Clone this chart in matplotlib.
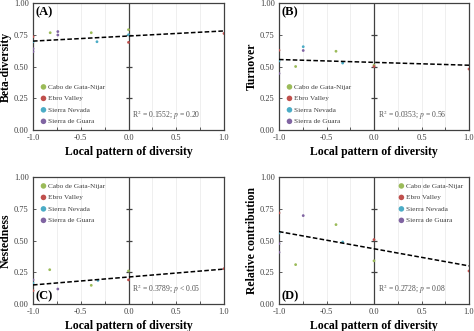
import matplotlib
matplotlib.use("Agg")
import matplotlib.pyplot as plt
import numpy as np

plt.rcParams['font.family'] = ['Liberation Serif', 'DejaVu Serif']
plt.rcParams['mathtext.fontset'] = 'stix'

sites = ["Cabo de Gata-Nijar", "Ebro Valley", "Sierra Nevada", "Sierra de Guara"]
site_colors = ["#9BBB59", "#C0504D", "#4BACC6", "#8064A2"]

# Panel A: Beta-diversity
a_x = {"Cabo de Gata-Nijar": [-0.82, -0.39, 0.0], "Ebro Valley": [-1.0, 0.0, 1.0],
       "Sierra Nevada": [-1.0, -0.33, 0.0], "Sierra de Guara": [-1.0, -1.0, -0.74, -0.74]}
a_y = {"Cabo de Gata-Nijar": [0.766, 0.766, 0.79], "Ebro Valley": [0.735, 0.69, 0.76],
       "Sierra Nevada": [0.695, 0.695, 0.75], "Sierra de Guara": [0.64, 0.617, 0.775, 0.748]}
# Panel B: Turnover
b_x = {"Cabo de Gata-Nijar": [-0.825, -0.40, 0.0], "Ebro Valley": [-1.0, 0.0, 1.0],
       "Sierra Nevada": [-1.0, -0.33, -0.745], "Sierra de Guara": [-1.0, -0.745]}
b_y = {"Cabo de Gata-Nijar": [0.50, 0.62, 0.51], "Ebro Valley": [0.628, 0.50, 0.48],
       "Sierra Nevada": [0.544, 0.527, 0.656], "Sierra de Guara": [0.445, 0.626]}
# Panel C: Nestedness
c_x = {"Cabo de Gata-Nijar": [-0.825, -0.39, 0.0], "Ebro Valley": [-1.0, 0.0, 1.0],
       "Sierra Nevada": [-1.0, -0.32], "Sierra de Guara": [-1.0, -0.74]}
c_y = {"Cabo de Gata-Nijar": [0.27, 0.147, 0.26], "Ebro Valley": [0.105, 0.19, 0.278],
       "Sierra Nevada": [0.165, 0.186], "Sierra de Guara": [0.19, 0.118]}
# Panel D: Relative contribution
d_x = {"Cabo de Gata-Nijar": [-0.825, -0.40, 0.0], "Ebro Valley": [-1.0, 0.0, 1.0],
       "Sierra Nevada": [-1.0, -0.33], "Sierra de Guara": [-1.0, -1.0, -0.745]}
d_y = {"Cabo de Gata-Nijar": [0.31, 0.625, 0.34], "Ebro Valley": [0.717, 0.507, 0.26],
       "Sierra Nevada": [0.559, 0.488], "Sierra de Guara": [0.475, 0.407, 0.696]}

# Fitted trend lines: (value at x=-1, value at x=1)
trend_a = [0.70, 0.78]
trend_b = [0.555, 0.51]
trend_c = [0.15, 0.275]
trend_d = [0.57, 0.30]

ylabels = ["Beta-diversity", "Turnover", "Nestedness", "Relative contribution"]
panel_labels = ["(A)", "(B)", "(C)", "(D)"]
stats = [r"R$^2$ = 0.1552; $\it{p}$ = 0.20", r"R$^2$ = 0.0353; $\it{p}$ = 0.56",
         r"R$^2$ = 0.3789; $\it{p}$ < 0.05", r"R$^2$ = 0.2728; $\it{p}$ = 0.08"]
xticks = [-1.0, -0.5, 0.0, 0.5, 1.0]
yticks = [0.0, 0.25, 0.5, 0.75, 1.0]

fig = plt.figure(figsize=(4.74, 3.31), dpi=100)
W, H = 474, 331
boxes = [(33, 3, 224, 130), (279, 3, 469, 130), (33, 177, 224, 304), (279, 177, 469, 304)]
xs_all = [a_x, b_x, c_x, d_x]
ys_all = [a_y, b_y, c_y, d_y]
trends = [trend_a, trend_b, trend_c, trend_d]
legend_locs = ["lower left", "lower left", "upper left", "upper right"]
label_pos = ["top", "top", "bottom", "bottom"]

for i in range(4):
    l, t, r, b = boxes[i]
    ax = fig.add_axes([l / W, 1 - b / H, (r - l) / W, (b - t) / H])
    ax.set_xlim(-1, 1)
    ax.set_ylim(0, 1)
    for xv in np.arange(-0.75, 1.0, 0.25):
        if abs(xv) > 1e-9:
            ax.axvline(xv, color="#ECECEC", lw=0.6, zorder=0)
    ax.axvline(0, color="#404040", lw=0.9, zorder=1)
    ax.plot([0, 0, 0], [0.25, 0.5, 0.75], ls="none", marker="_", ms=5, mew=0.9,
            color="#404040", zorder=1)
    for s, c in zip(sites, site_colors):
        ax.scatter(xs_all[i][s], ys_all[i][s], s=4, color=c, zorder=3, label=s,
                   edgecolors="none")
    ax.plot([-1, 1], trends[i], ls=(0, (3, 1.5)), color="black", lw=1.1, zorder=4)
    ax.set_xticks(xticks)
    ax.set_xticklabels(["%.1f" % v for v in xticks])
    ax.set_xticks(np.arange(-1, 1.01, 0.25), minor=True)
    ax.set_yticks(yticks)
    ax.set_yticklabels(["%.2f" % v for v in yticks])
    ax.tick_params(axis="both", which="both", direction="in", labelsize=6,
                   colors="#404040", length=2, width=0.6, pad=3)
    for sp in ax.spines.values():
        sp.set_color("#404040")
        sp.set_linewidth(0.9)
    ax.set_xlabel("Local pattern of diversity", fontsize=8.5, fontweight="bold", labelpad=3)
    ax.set_ylabel(ylabels[i], fontsize=8.5, fontweight="bold")
    ax.yaxis.set_label_coords(-0.11, 0.5)
    leg = ax.legend(loc=legend_locs[i], frameon=False, fontsize=5.2, handletextpad=0.0,
                    markerscale=2.0, labelspacing=0.75, borderaxespad=0.4,
                    handlelength=1.3, labelcolor="#404040")
    if label_pos[i] == "top":
        ax.text(0.015, 0.975, panel_labels[i], transform=ax.transAxes, fontsize=9,
                fontweight="bold", va="top", ha="left")
    else:
        ax.text(0.015, 0.015, panel_labels[i], transform=ax.transAxes, fontsize=9,
                fontweight="bold", va="bottom", ha="left")
    ax.text(0.52, 0.065, stats[i], transform=ax.transAxes, fontsize=5.5,
            color="#505050", va="bottom", ha="left")

fig.savefig("out.png", dpi=100)
